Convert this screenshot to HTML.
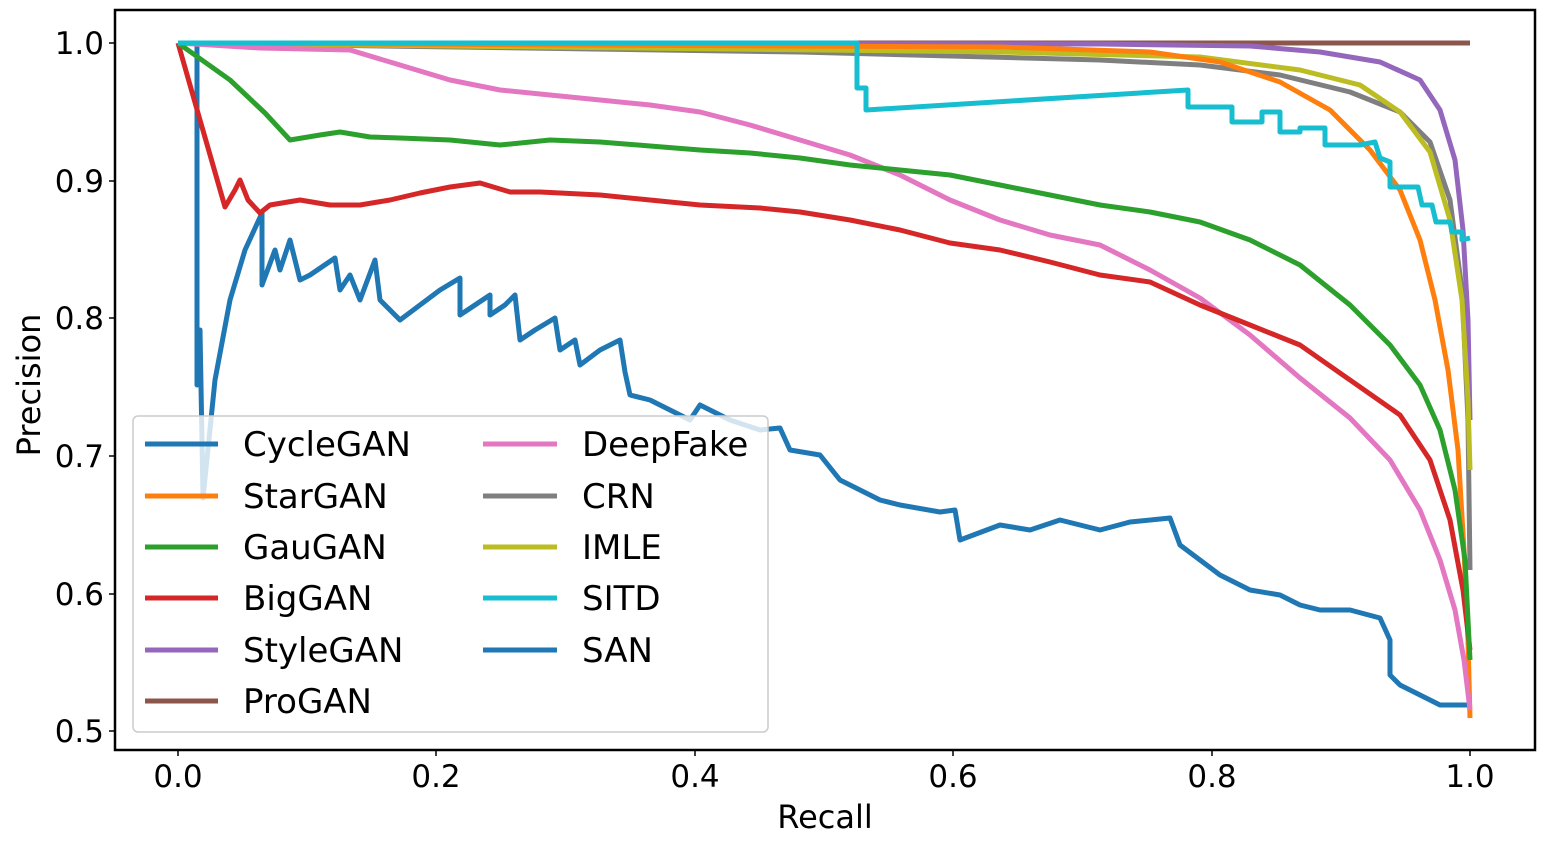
<!DOCTYPE html>
<html><head><style>
html,body{margin:0;padding:0;background:#fff;}
svg{display:block;font-family:"DejaVu Sans","Liberation Sans",sans-serif;}
</style></head><body>
<svg width="1545" height="844" viewBox="0 0 1545 844" xmlns="http://www.w3.org/2000/svg">
<rect width="1545" height="844" fill="#fff"/>
<g fill="none" stroke-width="5" stroke-linejoin="round">
<polyline stroke="#1f77b4" points="178,43 197,43 197,385 200,330 203,498 215,380 230,300 245,250 262,213 262,285 275,250 280,270 290,240 300,280 310,275 335,258 340,290 350,275 360,300 375,260 380,300 400,320 420,305 440,290 460,278 460,315 475,305 490,295 490,315 505,305 515,295 520,340 535,330 555,318 560,350 575,340 580,365 600,350 620,340 625,372 630,395 650,400 690,420 700,405 730,420 760,430 780,428 790,450 820,455 840,480 850,485 880,500 900,505 940,512 955,510 960,540 1000,525 1030,530 1060,520 1100,530 1130,522 1170,518 1180,545 1200,560 1220,575 1250,590 1280,595 1300,605 1320,610 1350,610 1380,618 1390,640 1390,675 1400,685 1420,695 1440,705 1470,705"/>
<polyline stroke="#8c564b" points="178,43 1470,43"/>
<polyline stroke="#9467bd" points="178,43 1100,44 1250,46 1320,52 1380,62 1420,80 1440,110 1455,160 1463,230 1468,320 1470,420"/>
<polyline stroke="#7f7f7f" points="178,43 800,52 1100,60 1200,65 1280,75 1350,92 1400,112 1430,142 1450,200 1462,290 1468,420 1470,570"/>
<polyline stroke="#bcbd22" points="178,43 1000,52 1200,57 1300,70 1360,85 1400,112 1430,152 1450,220 1462,300 1468,400 1470,470"/>
<polyline stroke="#ff7f0e" points="178,43 1000,47 1150,52 1220,62 1280,82 1330,110 1370,150 1400,190 1420,240 1435,300 1448,370 1458,450 1464,550 1468,640 1470,718"/>
<polyline stroke="#e377c2" points="178,43 260,48 350,50 400,65 450,80 500,90 550,95 600,100 650,105 700,112 750,125 800,140 850,155 900,175 950,200 1000,220 1050,235 1100,245 1150,270 1200,298 1250,335 1300,378 1350,418 1390,460 1420,510 1440,560 1455,610 1464,660 1470,710"/>
<polyline stroke="#d62728" points="178,43 200,120 225,207 235,190 240,180 248,200 260,213 270,205 300,200 330,205 360,205 390,200 420,193 450,187 480,183 510,192 540,192 600,195 650,200 700,205 760,208 800,212 850,220 900,230 950,243 1000,250 1050,262 1100,275 1150,282 1200,305 1250,325 1300,345 1350,380 1400,415 1430,460 1450,520 1463,590 1470,650"/>
<polyline stroke="#2ca02c" points="178,43 230,80 265,113 290,140 320,135 340,132 370,137 400,138 450,140 500,145 550,140 600,142 650,146 700,150 750,153 800,158 850,165 900,170 950,175 1000,185 1050,195 1100,205 1150,212 1200,222 1250,240 1300,265 1350,305 1390,345 1420,385 1440,430 1455,490 1465,560 1470,660"/>
<polyline stroke="#17becf" points="178,43 857,43 857,88 866,88 866,110 1188,90 1188,107 1232,107 1232,122 1262,122 1262,112 1280,112 1280,132 1300,132 1300,128 1325,128 1325,145 1360,145 1375,142 1380,158 1390,162 1390,187 1418,187 1422,205 1432,205 1436,222 1450,222 1452,232 1462,232 1462,240 1470,238"/>
</g>
<rect x="115" y="10" width="1420" height="740" fill="none" stroke="#000" stroke-width="2.5"/>
<g stroke="#000" stroke-width="1.5">
<line x1="178" y1="750" x2="178" y2="756"/><line x1="436" y1="750" x2="436" y2="756"/><line x1="695" y1="750" x2="695" y2="756"/><line x1="953" y1="750" x2="953" y2="756"/><line x1="1212" y1="750" x2="1212" y2="756"/><line x1="1470" y1="750" x2="1470" y2="756"/>
<line x1="109" y1="43" x2="115" y2="43"/><line x1="109" y1="181" x2="115" y2="181"/><line x1="109" y1="318" x2="115" y2="318"/><line x1="109" y1="456" x2="115" y2="456"/><line x1="109" y1="594" x2="115" y2="594"/><line x1="109" y1="731" x2="115" y2="731"/>
</g>
<g font-size="31" fill="#000" text-anchor="middle">
<text x="178" y="787">0.0</text><text x="436" y="787">0.2</text><text x="695" y="787">0.4</text><text x="953" y="787">0.6</text><text x="1212" y="787">0.8</text><text x="1470" y="787">1.0</text>
</g>
<g font-size="31" fill="#000" text-anchor="end">
<text x="104" y="54">1.0</text><text x="104" y="192">0.9</text><text x="104" y="329">0.8</text><text x="104" y="467">0.7</text><text x="104" y="605">0.6</text><text x="104" y="742">0.5</text>
</g>
<text x="825" y="828" font-size="32" text-anchor="middle">Recall</text>
<text transform="translate(40,385) rotate(-90)" font-size="32" text-anchor="middle">Precision</text>
<rect x="133" y="416" width="635" height="316" rx="5" fill="#fff" fill-opacity="0.8" stroke="#ccc" stroke-width="1.5"/>
<g stroke-width="5">
<line x1="145" x2="218" y1="444" y2="444" stroke="#1f77b4"/>
<line x1="145" x2="218" y1="496" y2="496" stroke="#ff7f0e"/>
<line x1="145" x2="218" y1="547" y2="547" stroke="#2ca02c"/>
<line x1="145" x2="218" y1="598" y2="598" stroke="#d62728"/>
<line x1="145" x2="218" y1="650" y2="650" stroke="#9467bd"/>
<line x1="145" x2="218" y1="701" y2="701" stroke="#8c564b"/>
<line x1="483" x2="557" y1="444" y2="444" stroke="#e377c2"/>
<line x1="483" x2="557" y1="496" y2="496" stroke="#7f7f7f"/>
<line x1="483" x2="557" y1="547" y2="547" stroke="#bcbd22"/>
<line x1="483" x2="557" y1="598" y2="598" stroke="#17becf"/>
<line x1="483" x2="557" y1="650" y2="650" stroke="#1f77b4"/>
</g>
<g font-size="34" fill="#000">
<text x="243" y="456">CycleGAN</text><text x="243" y="508">StarGAN</text><text x="243" y="559">GauGAN</text><text x="243" y="610">BigGAN</text><text x="243" y="662">StyleGAN</text><text x="243" y="713">ProGAN</text>
<text x="582" y="456">DeepFake</text><text x="582" y="508">CRN</text><text x="582" y="559">IMLE</text><text x="582" y="610">SITD</text><text x="582" y="662">SAN</text>
</g>
</svg>
</body></html>
